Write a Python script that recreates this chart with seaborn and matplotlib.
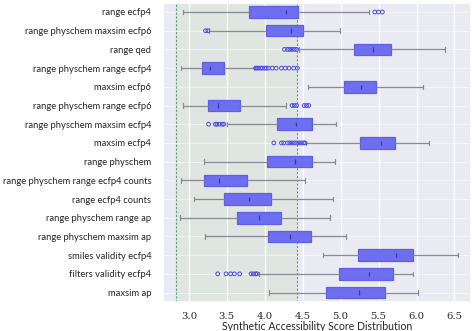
import numpy as np
import pandas as pd
import matplotlib
matplotlib.use("Agg")
import matplotlib.pyplot as plt
import seaborn as sns

categories = [
    "range ecfp4", "range physchem maxsim ecfp6", "range qed",
    "range physchem range ecfp4", "maxsim ecfp6", "range physchem range ecfp6",
    "range physchem maxsim ecfp4", "maxsim ecfp4", "range physchem",
    "range physchem range ecfp4 counts", "range ecfp4 counts",
    "range physchem range ap", "range physchem maxsim ap",
    "smiles validity ecfp4", "filters validity ecfp4", "maxsim ap",
]
whislo = [2.92, 3.27, 4.45, 2.90, 4.57, 2.92, 3.50, 4.55, 3.20, 2.89, 3.07, 2.88, 3.21, 4.77, 3.93, 4.05]
q1     = [3.79, 4.01, 5.18, 3.17, 5.05, 3.25, 4.16, 5.25, 4.03, 3.20, 3.46, 3.63, 4.04, 5.23, 4.98, 4.81]
median = [4.28, 4.35, 5.42, 3.28, 5.27, 3.39, 4.41, 5.53, 4.40, 3.40, 3.79, 3.93, 4.33, 5.73, 5.37, 5.24]
q3     = [4.44, 4.51, 5.67, 3.46, 5.47, 3.67, 4.62, 5.72, 4.62, 3.77, 4.08, 4.22, 4.61, 5.96, 5.69, 5.59]
whishi = [5.38, 4.99, 6.38, 3.86, 6.09, 4.28, 4.94, 6.17, 4.92, 4.53, 4.90, 4.86, 5.07, 6.55, 5.96, 6.02]
outliers = [
    [5.45, 5.50, 5.55],
    [3.22, 3.25],
    [4.26, 4.30, 4.33, 4.36, 4.39, 4.42],
    [3.88, 3.90, 3.92, 3.95, 3.97, 4.00, 4.02, 4.05, 4.10, 4.15, 4.22, 4.27, 4.32, 4.38, 4.43],
    [],
    [4.36, 4.39, 4.42, 4.52, 4.55, 4.58],
    [3.26, 3.35, 3.37, 3.40, 3.44, 3.46],
    [4.12, 4.22, 4.25, 4.30, 4.33, 4.36, 4.39, 4.42, 4.45, 4.48, 4.51, 4.53],
    [],
    [],
    [],
    [],
    [],
    [],
    [3.38, 3.49, 3.55, 3.60, 3.67, 3.82, 3.85, 3.88, 3.90],
    [],
]
band_lo, band_hi = 2.83, 4.43
xticks = [3.0, 3.5, 4.0, 4.5, 5.0, 5.5, 6.0, 6.5]

sns.set_theme(style="darkgrid")
plt.rcParams["font.family"] = ["Lato", "DejaVu Sans"]

rows = []
for c, a, b, m, d, e in zip(categories, whislo, q1, median, q3, whishi):
    for v in (a, b, m, d, e):
        rows.append({"cat": c, "score": v})
box_df = pd.DataFrame(rows)
out_df = pd.DataFrame([{"cat": c, "score": v} for c, vals in zip(categories, outliers) for v in vals])

fig = plt.figure(figsize=(4.74, 3.31), dpi=100)
ax = fig.add_axes([0.344, 0.088, 0.650, 0.904])

ax.axvspan(band_lo, band_hi, color="#dfe5e0", zorder=0.5, lw=0)

box_color = "#6e6ef0"
sns.boxplot(data=box_df, x="score", y="cat", order=categories, ax=ax,
            whis=(0, 100), showfliers=False, width=0.62, saturation=1,
            color=box_color, linewidth=0.9,
            boxprops=dict(facecolor=box_color, edgecolor="#5e5ee6"),
            whiskerprops=dict(color="#8a8a96"),
            capprops=dict(color="#8a8a96"),
            medianprops=dict(color="#3a3a9a", linewidth=0.9))

# shorten caps (data-space vertical 2-point lines only)
for line in ax.lines:
    xdata = np.asarray(line.get_xdata(), dtype=float)
    ydata = np.asarray(line.get_ydata(), dtype=float)
    if len(xdata) == 2 and xdata[0] == xdata[1] and ydata[0] != ydata[1]:
        cy = ydata.mean()
        line.set_ydata([cy - 0.12, cy + 0.12])

sns.stripplot(data=out_df, x="score", y="cat", order=categories, ax=ax,
              jitter=False, size=2.7, color="none", edgecolor="#4a4ae6",
              linewidth=0.7, marker="o")

ax.axvline(band_lo, color="#5f9f74", ls=(0, (2, 1.5)), lw=0.8, zorder=0.6)
ax.axvline(band_hi, color="#5f9f74", ls=(0, (2, 1.5)), lw=0.8, zorder=0.6)

ax.set_xlim(2.66, 6.72)
ax.set_ylim(len(categories) - 0.5, -0.5)
ax.set_xticks(xticks)
ax.set_xticklabels([f"{t:.1f}" for t in xticks], family="DejaVu Serif", fontsize=7.3)
ax.tick_params(axis="y", labelsize=6.75, pad=2.5)
ax.tick_params(axis="x", pad=1)
ax.set_ylabel("")
ax.set_xlabel("Synthetic Accessibility Score Distribution", fontsize=7.6, labelpad=0)
ax.grid(True, axis="y", color="white", lw=0.6, alpha=0.7)
ax.grid(True, axis="x", color="white", lw=0.9)

fig.savefig("out.png", dpi=100)
